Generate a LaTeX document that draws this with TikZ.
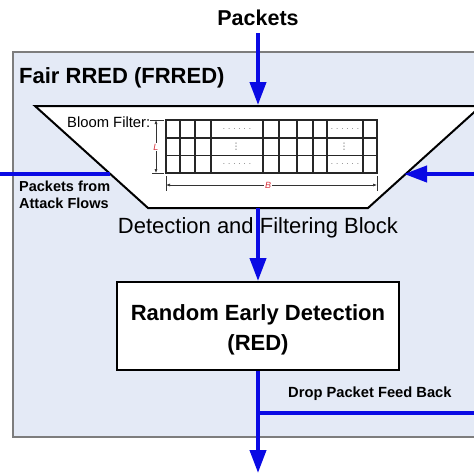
\documentclass[tikz,border=0pt]{standalone}
\usepackage{fontspec}
\setmainfont{Liberation Sans}
\newfontfamily\symfont{DejaVu Sans}
\usetikzlibrary{positioning,arrows.meta}
\definecolor{flowblue}{RGB}{10,10,228}
\definecolor{boxfill}{RGB}{228,234,246}
\definecolor{boxline}{RGB}{125,125,125}
\definecolor{dimred}{RGB}{215,50,60}

\begin{document}
\begin{tikzpicture}[x=1pt,y=1pt,
	txt/.style={inner sep=0pt},
	flow/.style={draw=flowblue,line width=4pt},
	flowtip/.style={flow,-{Triangle[length=23pt,width=16pt]}},
	bigbox/.style={draw=boxline,fill=boxfill,line width=1.5pt,minimum width=480pt,minimum height=385pt},
	redbox/.style={draw,fill=white,line width=2pt,minimum width=282pt,minimum height=88pt,align=center},
	dim/.style={draw=black!80,line width=0.6pt},
	dimlab/.style={fill=white,inner sep=1pt,text=dimred,font=\fontsize{9}{9}\selectfont\itshape},
	celldots/.style={inner sep=0pt,text=black!60,font=\fontsize{8}{8}\selectfont}
	]
	\useasboundingbox (0,0) rectangle (474,-474);

	% outer block
	\node[bigbox] (frred) at (253,-244.5) {};
	\node[txt,anchor=base west,font=\fontsize{22}{26}\selectfont\bfseries] (title) at (19,-83) {Fair RRED (FRRED)};

	% detection and filtering block
	\coordinate (tl) at (35,-106);
	\coordinate (tr) at (481,-106);
	\coordinate (br) at (368,-208);
	\coordinate (bl) at (148,-208);
	\draw[line width=2pt,fill=white] (tl) -- (tr) -- (br) -- (bl) -- cycle;
	\node[txt,anchor=base,font=\fontsize{22}{26}\selectfont] (dfb) at (258,-233) {Detection and Filtering Block};

	% bloom filter
	\node[txt,anchor=base west,font=\fontsize{14.8}{17}\selectfont] (bf) at (67,-127) {Bloom Filter:};
	\draw[line width=1.1pt,black!85] (166,-120) rectangle (377,-173)
	(166,-138) -- (377,-138) (166,-155.5) -- (377,-155.5)
	(180,-120) -- (180,-173) (195,-120) -- (195,-173)
	(211,-120) -- (211,-173) (263,-120) -- (263,-173)
	(279,-120) -- (279,-173) (297,-120) -- (297,-173)
	(313,-120) -- (313,-173) (327,-120) -- (327,-173)
	(363,-120) -- (363,-173);
	\node[celldots] (d1) at (237,-129) {. . . . . .};
	\node[celldots] (d2) at (345,-129) {. . . . . .};
	\node[celldots] (d3) at (237,-164) {. . . . . .};
	\node[celldots] (d4) at (345,-164) {. . . . . .};
	\node[celldots,font=\fontsize{9}{9}\symfont] (v1) at (236,-147) {⋮};
	\node[celldots,font=\fontsize{9}{9}\symfont] (v2) at (344,-147) {⋮};
	\draw[dim] (150,-120) -- (164,-120) (152,-173) -- (164,-173);
	\draw[dim,{Latex[length=4pt,width=3pt]}-{Latex[length=4pt,width=3pt]}] (156,-120) -- (156,-173);
	\node[dimlab] (L) at (156,-147) {L};
	\draw[dim] (166,-176) -- (166,-191) (377,-176) -- (377,-191);
	\draw[dim,{Latex[length=4pt,width=3pt]}-{Latex[length=4pt,width=3pt]}] (166,-185) -- (377,-185);
	\node[dimlab] (B) at (268,-185) {B};

	% RED block
	\node[redbox,font=\fontsize{22}{30}\selectfont\bfseries] (red) at (258,-326) {\rule{0pt}{24pt}Random Early Detection\\(RED)};

	% flows
	\node[txt,anchor=base,font=\fontsize{21.5}{26}\selectfont\bfseries] (pkt) at (258,-25) {Packets};
	\coordinate (in) at (258,-105);
	\coordinate (lsrc) at (-5,-174);
	\coordinate (lin) at (110,-174);
	\coordinate (rsrc) at (490,-174);
	\coordinate (rin) at (404,-174);
	\coordinate (tout) at (258,-208);
	\coordinate (fb) at (258,-413);
	\coordinate (fbend) at (490,-413);
	\coordinate (out) at (258,-473);
	\node[txt,anchor=north west,align=left,font=\fontsize{14.5}{17.5}\selectfont\bfseries] (atk) at (19,-180.5) {Packets from\\Attack Flows};
	\node[txt,anchor=base west,font=\fontsize{14.7}{17}\selectfont\bfseries] (drop) at (288,-397) {Drop Packet Feed Back};

	\draw[flowtip] ([yshift=-8pt]pkt.south) -- (in);
	\draw[flow] (lsrc) -- (lin);
	\draw[flowtip] (rsrc) -- (rin);
	\draw[flowtip] (tout) -- (red.north);
	\draw[flowtip] (red.south) -- (out);
	\draw[flow] (fb) -- (fbend);
\end{tikzpicture}
\end{document}
